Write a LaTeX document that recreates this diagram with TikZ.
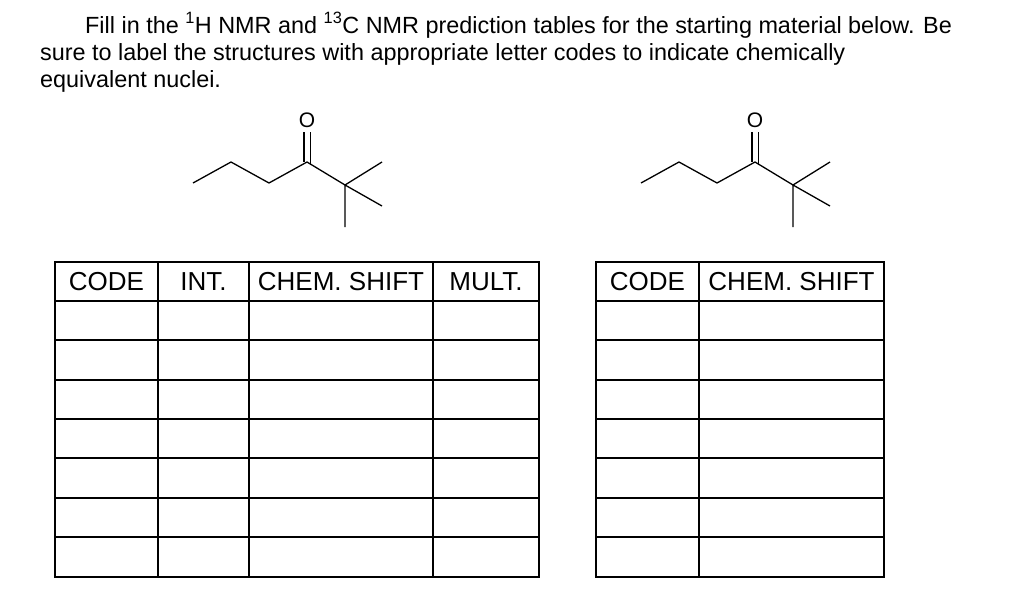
\documentclass[tikz,border=0pt]{standalone}
\usepackage{fontspec}
\setmainfont{Liberation Sans}
\begin{document}
\begin{tikzpicture}[x=1pt,y=-1pt,
  ttl/.style={anchor=base west,inner sep=0,font=\fontsize{23.4}{24}\selectfont},
  hdr/.style={anchor=center,inner sep=0,font=\fontsize{26}{26}\selectfont},
  bond/.style={line width=1.3pt},
  grid/.style={line width=1.1pt}]
\useasboundingbox (0,0) rectangle (1024,592);
\node[ttl] (t1) at (85,33) {Fill in the \textsuperscript{1}H NMR and \textsuperscript{13}C NMR prediction tables for the starting material below. Be};
\node[ttl] (t2) at (40,60) {sure to label the structures with appropriate letter codes to indicate chemically};
\node[ttl] (t3) at (40,87) {equivalent nuclei.};
\foreach \dx/\m in {0/a,448/b}{
\begin{scope}[xshift=\dx]
\coordinate (\m1) at (193,183);
\coordinate (\m2) at (231,162);
\coordinate (\m3) at (269,183);
\coordinate (\m4) at (307,162);
\coordinate (\m5) at (345,185);
\coordinate (\m6) at (382,162);
\coordinate (\m7) at (382,206);
\coordinate (\m8) at (345,227);
\node[inner sep=0,font=\fontsize{21}{21}\selectfont] (\m O) at (307,120) {O};
\draw[bond,line join=miter] (\m1)--(\m2)--(\m3)--(\m4)--(\m5)--(\m6);
\draw[bond] (\m5)--(\m7) (\m5)--(\m8);
\draw[bond] (304,162)--(304,132) (310.5,165)--(310.5,132);
\end{scope}}
\draw[grid] (55,262) rectangle (539,577);
\foreach \x in {158,249,433} \draw[grid] (\x,262)--(\x,577);
\foreach \y in {301,340,380,419,458,498,537} \draw[grid] (55,\y)--(539,\y);
\node[hdr] (h1) at (106.5,282) {CODE};
\node[hdr] (h2) at (203.5,282) {INT.};
\node[hdr] (h3) at (341,282) {CHEM. SHIFT};
\node[hdr] (h4) at (486,282) {MULT.};
\draw[grid] (596,262) rectangle (884,577);
\draw[grid] (699,262)--(699,577);
\foreach \y in {301,340,380,419,458,498,537} \draw[grid] (596,\y)--(884,\y);
\node[hdr] (h5) at (647.5,282) {CODE};
\node[hdr] (h6) at (791.5,282) {CHEM. SHIFT};
\end{tikzpicture}
\end{document}
